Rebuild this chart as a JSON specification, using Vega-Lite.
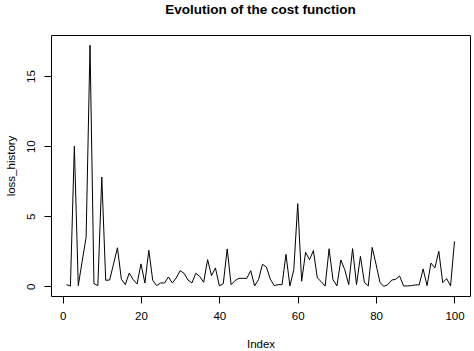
{
  "$schema": "https://vega.github.io/schema/vega-lite/v6.json",
  "width": 419,
  "height": 261,
  "autosize": {"type": "none"},
  "padding": {"left": 51, "top": 35, "right": 4, "bottom": 55},
  "background": "white",
  "config": {
    "view": {"stroke": "black", "strokeWidth": 1},
    "font": "Liberation Sans"
  },
  "title": {
    "text": "Evolution of the cost function",
    "font": "Liberation Sans",
    "fontSize": 13.5,
    "fontWeight": "bold",
    "color": "black",
    "anchor": "middle",
    "offset": 19
  },
  "data": {
    "values": [
      {"i": 1, "v": 0.12}, {"i": 2, "v": 0.02}, {"i": 3, "v": 10.0}, {"i": 4, "v": 0.05}, {"i": 5, "v": 1.8},
      {"i": 6, "v": 3.5}, {"i": 7, "v": 17.2}, {"i": 8, "v": 0.2}, {"i": 9, "v": 0.05}, {"i": 10, "v": 7.8},
      {"i": 11, "v": 0.43}, {"i": 12, "v": 0.45}, {"i": 13, "v": 1.6}, {"i": 14, "v": 2.75}, {"i": 15, "v": 0.5},
      {"i": 16, "v": 0.12}, {"i": 17, "v": 0.95}, {"i": 18, "v": 0.48}, {"i": 19, "v": 0.17}, {"i": 20, "v": 1.6},
      {"i": 21, "v": 0.24}, {"i": 22, "v": 2.57}, {"i": 23, "v": 0.43}, {"i": 24, "v": 0.05}, {"i": 25, "v": 0.24},
      {"i": 26, "v": 0.24}, {"i": 27, "v": 0.67}, {"i": 28, "v": 0.24}, {"i": 29, "v": 0.6}, {"i": 30, "v": 1.12},
      {"i": 31, "v": 0.92}, {"i": 32, "v": 0.45}, {"i": 33, "v": 0.24}, {"i": 34, "v": 0.93}, {"i": 35, "v": 0.7},
      {"i": 36, "v": 0.29}, {"i": 37, "v": 1.9}, {"i": 38, "v": 0.76}, {"i": 39, "v": 1.31}, {"i": 40, "v": 0.03},
      {"i": 41, "v": 0.19}, {"i": 42, "v": 2.67}, {"i": 43, "v": 0.12}, {"i": 44, "v": 0.41}, {"i": 45, "v": 0.57},
      {"i": 46, "v": 0.57}, {"i": 47, "v": 0.57}, {"i": 48, "v": 1.12}, {"i": 49, "v": 0.03}, {"i": 50, "v": 0.48},
      {"i": 51, "v": 1.57}, {"i": 52, "v": 1.38}, {"i": 53, "v": 0.52}, {"i": 54, "v": 0.05}, {"i": 55, "v": 0.12},
      {"i": 56, "v": 0.12}, {"i": 57, "v": 2.28}, {"i": 58, "v": 0.03}, {"i": 59, "v": 1.19}, {"i": 60, "v": 5.9},
      {"i": 61, "v": 0.36}, {"i": 62, "v": 2.43}, {"i": 63, "v": 1.9}, {"i": 64, "v": 2.55}, {"i": 65, "v": 0.6},
      {"i": 66, "v": 0.33}, {"i": 67, "v": 0.02}, {"i": 68, "v": 2.68}, {"i": 69, "v": 0.48}, {"i": 70, "v": 0.03},
      {"i": 71, "v": 1.88}, {"i": 72, "v": 1.19}, {"i": 73, "v": 0.12}, {"i": 74, "v": 2.69}, {"i": 75, "v": 0.12},
      {"i": 76, "v": 2.14}, {"i": 77, "v": 0.29}, {"i": 78, "v": 0.03}, {"i": 79, "v": 2.78}, {"i": 80, "v": 1.55},
      {"i": 81, "v": 0.26}, {"i": 82, "v": 0.0}, {"i": 83, "v": 0.12}, {"i": 84, "v": 0.45}, {"i": 85, "v": 0.5},
      {"i": 86, "v": 0.74}, {"i": 87, "v": 0.03}, {"i": 88, "v": 0.03}, {"i": 89, "v": 0.05}, {"i": 90, "v": 0.1},
      {"i": 91, "v": 0.1}, {"i": 92, "v": 1.24}, {"i": 93, "v": 0.05}, {"i": 94, "v": 1.66}, {"i": 95, "v": 1.31},
      {"i": 96, "v": 2.5}, {"i": 97, "v": 0.26}, {"i": 98, "v": 0.55}, {"i": 99, "v": 0.03}, {"i": 100, "v": 3.21}
    ]
  },
  "mark": {"type": "line", "color": "black", "strokeWidth": 1, "clip": true},
  "encoding": {
    "x": {
      "field": "i",
      "type": "quantitative",
      "scale": {"domain": [-2.96, 103.96], "nice": false, "zero": false},
      "axis": {
        "title": "Index",
        "values": [0, 20, 40, 60, 80, 100],
        "grid": false,
        "domain": false,
        "ticks": true,
        "tickSize": 7,
        "tickColor": "black",
        "labelColor": "black",
        "labelFontSize": 11.5,
        "labelFont": "Liberation Sans",
        "labelPadding": 7.5,
        "labelFlush": false,
        "titleFont": "Liberation Sans",
        "titleFontSize": 11.5,
        "titleFontWeight": "normal",
        "titleColor": "black",
        "titleBaseline": "alphabetic",
        "titleY": 51.9
      }
    },
    "y": {
      "field": "v",
      "type": "quantitative",
      "scale": {"domain": [-0.69, 17.93], "nice": false, "zero": false},
      "axis": {
        "title": "loss_history",
        "values": [0, 5, 10, 15],
        "grid": false,
        "domain": false,
        "ticks": true,
        "tickSize": 7,
        "tickColor": "black",
        "labelColor": "black",
        "labelFontSize": 11.5,
        "labelFont": "Liberation Sans",
        "labelAngle": -90,
        "labelAlign": "center",
        "labelBaseline": "bottom",
        "labelPadding": 8,
        "labelFlush": false,
        "titleFont": "Liberation Sans",
        "titleFontSize": 11.5,
        "titleFontWeight": "normal",
        "titleColor": "black",
        "titleBaseline": "middle",
        "titleX": -39.5
      }
    }
  }
}
